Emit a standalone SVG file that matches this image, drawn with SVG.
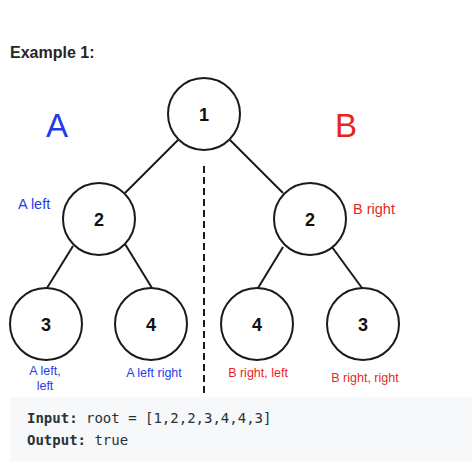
<svg xmlns="http://www.w3.org/2000/svg" width="474" height="476" viewBox="0 0 474 476">
<style>
.n circle{fill:#fff;stroke:#1a1a1a;stroke-width:2}
.n text{font-family:"Liberation Sans",Arial,sans-serif;font-weight:bold;font-size:18px;fill:#111;text-anchor:middle}
.e line{stroke:#1a1a1a;stroke-width:2}
.a{fill:#1f3de8;font-family:"Liberation Sans",Arial,sans-serif}
.b{fill:#e8261f;font-family:"Liberation Sans",Arial,sans-serif}
.m{font-family:"DejaVu Sans Mono","Liberation Mono",monospace;font-size:14px;fill:#263238}
</style>
<rect width="474" height="476" fill="#fff"/>
<text x="10" y="58" font-family="Liberation Sans,Arial,sans-serif" font-weight="bold" font-size="16" fill="#262626">Example 1:</text>
<g id="connectors" class="e">
<line x1="178" y1="140" x2="125" y2="193"/>
<line x1="230" y1="140" x2="283" y2="193"/>
<line x1="73" y1="246" x2="47" y2="288"/>
<line x1="125" y1="244" x2="152" y2="288"/>
<line x1="283" y1="247" x2="258" y2="288"/>
<line x1="332" y1="247" x2="362" y2="288"/>
<line x1="204" y1="166" x2="204" y2="395" stroke-width="2.8" stroke-dasharray="7,4"/>
</g>
<g id="n1" class="n"><circle cx="204" cy="114" r="36"/><text x="204" y="121">1</text></g>
<g id="n2a" class="n"><circle cx="99" cy="219" r="36"/><text x="99" y="226">2</text></g>
<g id="n2b" class="n"><circle cx="310" cy="219" r="36"/><text x="310" y="226">2</text></g>
<g id="n3a" class="n"><circle cx="46" cy="324" r="36"/><text x="46" y="331">3</text></g>
<g id="n4a" class="n"><circle cx="151" cy="324" r="36"/><text x="151" y="331">4</text></g>
<g id="n4b" class="n"><circle cx="257" cy="324" r="36"/><text x="257" y="331">4</text></g>
<g id="n3b" class="n"><circle cx="363" cy="324" r="36"/><text x="363" y="331">3</text></g>
<g id="labels">
<text class="a" x="46" y="137" font-size="33">A</text>
<text class="b" x="335" y="137" font-size="33">B</text>
<text class="a" x="18" y="209" font-size="14.5">A left</text>
<text class="b" x="353" y="214" font-size="14.5">B right</text>
<text class="a" x="45" y="375" font-size="12.5" text-anchor="middle">A left,</text>
<text class="a" x="45" y="390" font-size="12.5" text-anchor="middle">left</text>
<text class="a" x="154" y="377" font-size="12.5" text-anchor="middle">A left right</text>
<text class="b" x="258" y="377" font-size="12.5" text-anchor="middle">B right, left</text>
<text class="b" x="365" y="382" font-size="12.5" text-anchor="middle">B right, right</text>
</g>
<g id="code">
<rect x="10" y="397" width="462" height="65" fill="#f7f8fa"/>
<text class="m" x="27" y="423"><tspan font-weight="bold">Input:</tspan> root = [1,2,2,3,4,4,3]</text>
<text class="m" x="27" y="445"><tspan font-weight="bold">Output:</tspan> true</text>
</g>
</svg>
